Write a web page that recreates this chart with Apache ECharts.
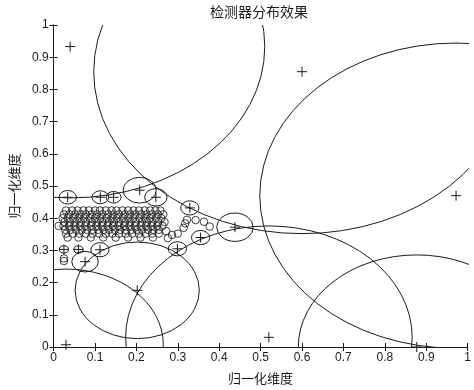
<!DOCTYPE html>
<html><head><meta charset="utf-8">
<script src="https://cdn.jsdelivr.net/npm/echarts@6/dist/echarts.min.js"></script>
<style>html,body{margin:0;padding:0;background:#fff}#c{width:474px;height:390px}</style>
</head><body><div id="c"></div>
<script>
// Detectors: centre x, centre y, radius
const detX = [0.040, 0.600, 0.972, 0.877, 0.520, 0.030, 0.202, 0.438, 0.208, 0.247, 0.034, 0.113, 0.145, 0.329, 0.355, 0.299, 0.112, 0.076, 0.025, 0.060];
const detY = [0.933, 0.855, 0.470, 0.000, 0.030, 0.007, 0.176, 0.372, 0.487, 0.465, 0.465, 0.465, 0.465, 0.432, 0.340, 0.305, 0.302, 0.265, 0.303, 0.303];
const detR = [0.470, 0.503, 0.474, 0.286, 0.346, 0.235, 0.150, 0.044, 0.040, 0.027, 0.021, 0.020, 0.018, 0.022, 0.022, 0.022, 0.022, 0.032, 0.011, 0.011];

// Self samples (rows of the dense cluster)
const selfRowY = [0.424, 0.412, 0.400, 0.388, 0.376, 0.364, 0.352, 0.340];
const selfRowX = [
  [0.030,0.045,0.058,0.072,0.085,0.100,0.112,0.126,0.140,0.152,0.166,0.180,0.193,0.206,0.220,0.233,0.246,0.258],
  [0.025,0.038,0.052,0.065,0.078,0.092,0.105,0.118,0.132,0.145,0.158,0.172,0.185,0.198,0.212,0.225,0.238,0.252,0.265],
  [0.022,0.034,0.047,0.060,0.073,0.087,0.100,0.113,0.127,0.140,0.153,0.167,0.180,0.193,0.207,0.220,0.233,0.247,0.260],
  [0.026,0.040,0.053,0.066,0.079,0.093,0.106,0.119,0.133,0.146,0.159,0.173,0.186,0.199,0.213,0.226,0.239,0.253,0.268],
  [0.012,0.024,0.037,0.050,0.063,0.076,0.090,0.103,0.116,0.130,0.143,0.156,0.170,0.183,0.196,0.210,0.223,0.236,0.250,0.263],
  [0.028,0.041,0.054,0.068,0.081,0.094,0.108,0.121,0.134,0.148,0.161,0.174,0.188,0.201,0.214,0.228,0.241,0.254],
  [0.030,0.046,0.062,0.078,0.094,0.110,0.126,0.142,0.158,0.174,0.190,0.206,0.222,0.238,0.254],
  [0.034,0.060,0.090,0.120,0.150,0.180,0.210,0.240]
];
const selfExtraX = [0.272, 0.286, 0.300, 0.314, 0.318, 0.322, 0.343, 0.363, 0.377, 0.276, 0.025, 0.025];
const selfExtraY = [0.360, 0.348, 0.352, 0.370, 0.384, 0.395, 0.394, 0.389, 0.374, 0.338, 0.275, 0.267];

const detData = detX.map((x,i)=>[x, detY[i], detR[i]]);
const crossData = detX.map((x,i)=>[x, detY[i]]);
const selfData = [];
selfRowX.forEach((row,i)=>row.forEach(x=>selfData.push([x, selfRowY[i]])));
selfExtraX.forEach((x,i)=>selfData.push([x, selfExtraY[i]]));

const ink = '#1a1a1a';
const chart = echarts.init(document.getElementById('c'));
const axisCommon = {
  type:'value', min:0, max:1, interval:0.1,
  axisLine:{show:true, lineStyle:{color:ink, width:1}},
  axisTick:{show:true, inside:true, length:4, lineStyle:{color:ink}},
  splitLine:{show:false},
};
function q(rx, ry, x, y){ return ' A '+rx+' '+ry+' 0 0 1 '+x+' '+y; }
chart.setOption({
  animation:false,
  backgroundColor:'#fff',
  title:{text:'检测器分布效果', left:205, top:0, textStyle:{fontSize:14, fontWeight:'normal', color:ink, fontFamily:'Noto Sans CJK SC'}},
  grid:{left:48, right:6, top:25, bottom:35, containLabel:false},
  xAxis:[
    Object.assign({}, axisCommon, {position:'bottom', name:'归一化维度', nameLocation:'middle', nameGap:25,
      nameTextStyle:{fontSize:13, color:ink, fontFamily:'Noto Sans CJK SC'},
      axisLabel:{show:true, margin:5, fontSize:12, color:ink, fontFamily:'Liberation Sans'}}),
    Object.assign({}, axisCommon, {position:'top', axisLabel:{show:false}})
  ],
  yAxis:[
    Object.assign({}, axisCommon, {position:'left', name:'归一化维度', nameLocation:'middle', nameGap:32,
      nameTextStyle:{fontSize:13, color:ink, fontFamily:'Noto Sans CJK SC'},
      axisLabel:{show:true, margin:5, fontSize:12, color:ink, fontFamily:'Liberation Sans'}}),
    Object.assign({}, axisCommon, {position:'right', axisLabel:{show:false}})
  ],
  series:[
    {
      type:'custom', clip:true, data:detData,
      renderItem:function(params, api){
        const c = api.coord([api.value(0), api.value(1)]);
        const s = api.size([api.value(2), api.value(2)]);
        const rx = s[0], ry = s[1], cx = c[0], cy = c[1];
        const p = 'M '+(cx+rx)+' '+cy + q(rx,ry,cx,cy+ry) + q(rx,ry,cx-rx,cy) + q(rx,ry,cx,cy-ry) + q(rx,ry,cx+rx,cy) + ' Z';
        return {type:'path', shape:{pathData:p}, style:{fill:null, stroke:ink, lineWidth:1}};
      }
    },
    {
      type:'scatter', data:selfData, symbol:'circle', symbolSize:7.5,
      itemStyle:{color:'rgba(0,0,0,0)', borderColor:'#111', borderWidth:1}
    },
    {
      type:'custom', clip:false, data:crossData,
      renderItem:function(params, api){
        const c = api.coord([api.value(0), api.value(1)]);
        const h = 5;
        return {type:'group', children:[
          {type:'line', shape:{x1:c[0]-h, y1:c[1], x2:c[0]+h, y2:c[1]}, style:{stroke:ink, lineWidth:1}},
          {type:'line', shape:{x1:c[0], y1:c[1]-h, x2:c[0], y2:c[1]+h}, style:{stroke:ink, lineWidth:1}}
        ]};
      }
    }
  ]
});
</script></body></html>
